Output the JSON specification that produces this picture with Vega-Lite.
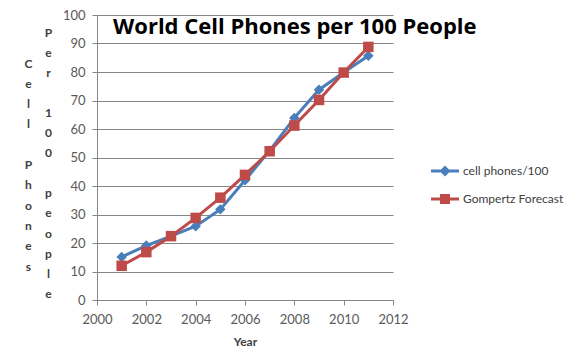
{
  "$schema": "https://vega.github.io/schema/vega-lite/v6.json",
  "autosize": {"type": "none"},
  "width": 296,
  "height": 285,
  "padding": {"left": 97, "top": 15, "right": 191, "bottom": 62},
  "background": "white",
  "config": {
    "view": {"stroke": null},
    "font": "Lato",
    "axis": {"labelFont": "Lato", "labelFontSize": 13, "labelColor": "#595959", "domainColor": "#868686", "tickColor": "#868686", "gridColor": "#868686", "tickSize": 5},
    "legend": {"orient": "none", "legendX": 342, "legendY": 150, "symbolSize": 100, "labelOffset": 12, "rowPadding": 16, "labelFont": "Lato", "labelFontSize": 12, "labelColor": "#404040", "symbolStrokeWidth": 0}
  },
  "title": {
    "text": "World Cell Phones per 100 People",
    "anchor": "start",
    "frame": "group",
    "offset": -22,
    "baseline": "alphabetic",
    "dx": 16,
    "dy": 25,
    "font": "Open Sans",
    "fontSize": 22,
    "fontWeight": "bold",
    "color": "#000000"
  },
  "data": {
    "values": [
      {"year": 2001, "value": 15.1, "series": "cell phones/100"},
      {"year": 2002, "value": 19.1, "series": "cell phones/100"},
      {"year": 2003, "value": 22.4, "series": "cell phones/100"},
      {"year": 2004, "value": 25.9, "series": "cell phones/100"},
      {"year": 2005, "value": 31.8, "series": "cell phones/100"},
      {"year": 2006, "value": 42.0, "series": "cell phones/100"},
      {"year": 2007, "value": 52.4, "series": "cell phones/100"},
      {"year": 2008, "value": 63.9, "series": "cell phones/100"},
      {"year": 2009, "value": 73.8, "series": "cell phones/100"},
      {"year": 2010, "value": 79.8, "series": "cell phones/100"},
      {"year": 2011, "value": 85.7, "series": "cell phones/100"},
      {"year": 2001, "value": 12.0, "series": "Gompertz Forecast"},
      {"year": 2002, "value": 16.8, "series": "Gompertz Forecast"},
      {"year": 2003, "value": 22.4, "series": "Gompertz Forecast"},
      {"year": 2004, "value": 28.8, "series": "Gompertz Forecast"},
      {"year": 2005, "value": 35.9, "series": "Gompertz Forecast"},
      {"year": 2006, "value": 43.9, "series": "Gompertz Forecast"},
      {"year": 2007, "value": 52.2, "series": "Gompertz Forecast"},
      {"year": 2008, "value": 61.2, "series": "Gompertz Forecast"},
      {"year": 2009, "value": 70.2, "series": "Gompertz Forecast"},
      {"year": 2010, "value": 79.8, "series": "Gompertz Forecast"},
      {"year": 2011, "value": 88.8, "series": "Gompertz Forecast"}
    ]
  },
  "encoding": {
    "x": {
      "field": "year", "type": "quantitative",
      "scale": {"domain": [2000, 2012], "nice": false, "zero": false},
      "axis": {"values": [2000, 2002, 2004, 2006, 2008, 2010, 2012], "format": "d", "grid": false, "labelPadding": 8, "title": "Year", "titleFont": "Lato", "titleFontSize": 12, "titleFontWeight": "bold", "titleColor": "#404040", "titlePadding": 10, "labelFlush": false}
    }
  },
  "layer": [
    {
      "mark": {"type": "line", "strokeWidth": 3},
      "encoding": {
        "y": {
          "field": "value", "type": "quantitative",
          "scale": {"domain": [0, 100], "nice": false},
          "axis": {
            "values": [0, 10, 20, 30, 40, 50, 60, 70, 80, 90, 100],
            "grid": true,
            "labelPadding": 7,
            "title": ["P", "e", "r", "\u2060", "1", "0", "0", "\u2060", "p", "e", "o", "p", "l", "e"],
            "titleAngle": 0,
            "titleAlign": "center",
            "titleBaseline": "top",
            "titleLineHeight": 20.1,
            "titleX": -49,
            "titleY": 12,
            "titleFont": "Lato",
            "titleFontSize": 12,
            "titleFontWeight": "bold",
            "titleColor": "#404040"
          }
        },
        "color": {
          "field": "series", "type": "nominal",
          "scale": {"domain": ["cell phones/100", "Gompertz Forecast"], "range": ["#4A7EBB", "#BE4B48"]},
          "legend": {"title": null}
        }
      }
    },
    {
      "transform": [{"filter": "datum.series === 'cell phones/100'"}],
      "mark": {"type": "point", "filled": true, "opacity": 1, "shape": "diamond", "color": "#4A7EBB", "size": 110},
      "encoding": {
        "y": {
          "field": "value", "type": "quantitative",
          "axis": {
            "orient": "left",
            "labels": false, "ticks": false, "domain": false, "grid": false,
            "title": ["C", "e", "l", "l", "\u200b", "P", "h", "o", "n", "e", "s"],
            "titleAngle": 0,
            "titleAlign": "center",
            "titleBaseline": "top",
            "titleLineHeight": 20.3,
            "titleX": -69,
            "titleY": 43,
            "titleFont": "Lato",
            "titleFontSize": 12,
            "titleFontWeight": "bold",
            "titleColor": "#404040"
          }
        }
      }
    },
    {
      "transform": [{"filter": "datum.series === 'Gompertz Forecast'"}],
      "mark": {"type": "point", "filled": true, "opacity": 1, "shape": "square", "color": "#BE4B48", "size": 110},
      "encoding": {
        "y": {"field": "value", "type": "quantitative", "axis": null}
      }
    },
    {
      "transform": [{"filter": "false"}],
      "mark": {"type": "point", "filled": true, "opacity": 1},
      "encoding": {
        "color": {
          "field": "series", "type": "nominal",
          "legend": {"title": null}
        },
        "shape": {
          "field": "series", "type": "nominal",
          "scale": {"domain": ["cell phones/100", "Gompertz Forecast"], "range": ["M-2.8,-0.3H2.8V0.3H-2.8Z M0,-1.1L1.1,0L0,1.1L-1.1,0Z", "M-2.8,-0.3H2.8V0.3H-2.8Z M-1,-1H1V1H-1Z"]},
          "legend": {"title": null}
        }
      }
    }
  ],
  "resolve": {"axis": {"y": "independent"}}
}
